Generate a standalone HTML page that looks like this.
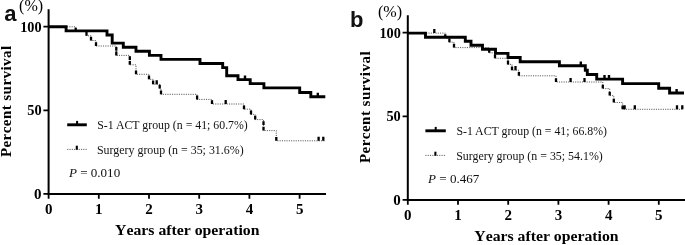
<!DOCTYPE html>
<html><head><meta charset="utf-8"><title>Survival curves</title>
<style>
html,body{margin:0;padding:0;background:#fff;}
svg{display:block;}
.tk{font:bold 14px "Liberation Serif",serif;fill:#000;}
.ttl{font:bold 15.65px "Liberation Serif",serif;fill:#000;font-kerning:none;}
.pc{font:16.2px "Liberation Serif",serif;fill:#000;}
.let{font:bold 22px "Liberation Sans",sans-serif;fill:#111;}
.lg{font:11.9px "Liberation Serif",serif;fill:#111;}
.pv{font:12.8px "Liberation Serif",serif;fill:#111;}
</style></head><body>
<svg width="685" height="245" viewBox="0 0 685 245">
<rect width="685" height="245" fill="#fff"/>
<path d="M48.6,9.3V194.9M47.6,193.9H326" stroke="#000" stroke-width="2" fill="none"/>
<path d="M43.4,26.7H48.6M43.4,110.3H48.6M43.4,193.9H48.6M48.6,193.9V198.7M98.8,193.9V198.7M149.0,193.9V198.7M199.2,193.9V198.7M249.4,193.9V198.7M299.6,193.9V198.7" stroke="#000" stroke-width="1.8" fill="none"/>
<text x="20.2" y="31.5" textLength="21.4" lengthAdjust="spacingAndGlyphs" class="tk">100</text>
<text x="27.2" y="115.1" textLength="14.4" lengthAdjust="spacingAndGlyphs" class="tk">50</text>
<text x="34.1" y="198.7" textLength="7.5" lengthAdjust="spacingAndGlyphs" class="tk">0</text>
<text x="44.9" y="214.2" textLength="7.5" lengthAdjust="spacingAndGlyphs" class="tk">0</text>
<text x="95.1" y="214.2" textLength="7.5" lengthAdjust="spacingAndGlyphs" class="tk">1</text>
<text x="145.2" y="214.2" textLength="7.5" lengthAdjust="spacingAndGlyphs" class="tk">2</text>
<text x="195.5" y="214.2" textLength="7.5" lengthAdjust="spacingAndGlyphs" class="tk">3</text>
<text x="245.7" y="214.2" textLength="7.5" lengthAdjust="spacingAndGlyphs" class="tk">4</text>
<text x="295.9" y="214.2" textLength="7.5" lengthAdjust="spacingAndGlyphs" class="tk">5</text>
<text transform="translate(115.1,235.1) scale(1,0.9)" textLength="144.3" lengthAdjust="spacingAndGlyphs" class="ttl">Years after operation</text>
<text transform="translate(11.0,157.1) rotate(-90) scale(1,0.93)" x="0" textLength="111.2" lengthAdjust="spacing" class="ttl" style="font-size:15px">Percent survival</text>
<text x="19.1" y="11.4" textLength="24.1" lengthAdjust="spacingAndGlyphs" class="pc">(%)</text>
<text x="4.2" y="21.3" class="let">a</text>
<path d="M48.6,26.8H75.7V31.5H86.5V35.8H91V40.5H96V46H116.3V55.4H129.8V64.8H136V74.3H149V79.3H153.1V84.3H159.7V88.6H161V94.3H197.1V99.4H212V104H244V109.2H251V114.4H255.2V119.6H263.5V130.6H276.3V140.8H324.7" stroke="#3a3a3a" stroke-width="0.85" stroke-dasharray="1.1 1.2" fill="none"/>
<path d="M75.7,27.7V31.5M86.5,32.0V35.8M91.0,36.7V40.5M96.0,42.2V46.0M116.3,46.9V50.7M116.3,51.6V55.4M129.8,56.3V60.1M129.8,61.0V64.8M136.0,70.5V74.3M149.0,75.5V79.3M153.1,80.5V84.3M159.7,84.8V88.6M161.0,90.5V94.3M197.1,95.6V99.4M212.0,100.2V104.0M244.0,105.4V109.2M251.0,110.6V114.4M255.2,115.8V119.6M263.5,121.3V125.1M263.5,126.8V130.6M276.3,137.0V140.8M156.7,80.2V84.3M225.7,99.9V104.0M318.6,136.7V140.8M323.3,136.7V140.8" stroke="#000" stroke-width="2.3" fill="none"/>
<path d="M48.6,26.8H66.1V30.9H107V35H112.2V43.1H123.3V47.2H136V51.3H149.4V55.4H161V59.4H200V63.5H222.7V67.6H226.7V75.7H238V79.6H250.2V83.6H263.9V87.9H299.7V92.5H310.8V96.8H325.3" stroke="#000" stroke-width="2.9" fill="none" stroke-linejoin="miter"/>
<path d="M245,75.5V79.6M317.8,92.7V96.8" stroke="#000" stroke-width="2.4" fill="none"/>
<path d="M67.2,124.8H86.8" stroke="#000" stroke-width="2.9"/>
<path d="M77.1,120.9V124.8" stroke="#000" stroke-width="2"/>
<path d="M67.2,149.4H86.8" stroke="#3a3a3a" stroke-width="0.85" stroke-dasharray="1.1 1.2"/>
<path d="M76.8,145.7V149.7" stroke="#000" stroke-width="2.1"/>
<text x="97.2" y="128.7" textLength="150.6" lengthAdjust="spacingAndGlyphs" class="lg">S-1 ACT group (n = 41; 60.7%)</text>
<text x="97.0" y="153.6" textLength="146.6" lengthAdjust="spacingAndGlyphs" class="lg">Surgery group (n = 35; 31.6%)</text>
<text x="68.9" y="177.0" textLength="51.3" lengthAdjust="spacingAndGlyphs" class="pv"><tspan font-style="italic">P</tspan> = 0.010</text>
<path d="M407.8,15.3V200.9M406.8,199.9H685" stroke="#000" stroke-width="2" fill="none"/>
<path d="M402.6,32.7H407.8M402.6,116.3H407.8M402.6,199.9H407.8M407.8,199.9V204.7M458.0,199.9V204.7M508.2,199.9V204.7M558.4,199.9V204.7M608.6,199.9V204.7M658.8,199.9V204.7" stroke="#000" stroke-width="1.8" fill="none"/>
<text x="379.4" y="37.5" textLength="21.4" lengthAdjust="spacingAndGlyphs" class="tk">100</text>
<text x="386.4" y="121.1" textLength="14.4" lengthAdjust="spacingAndGlyphs" class="tk">50</text>
<text x="393.3" y="204.7" textLength="7.5" lengthAdjust="spacingAndGlyphs" class="tk">0</text>
<text x="404.1" y="220.2" textLength="7.5" lengthAdjust="spacingAndGlyphs" class="tk">0</text>
<text x="454.2" y="220.2" textLength="7.5" lengthAdjust="spacingAndGlyphs" class="tk">1</text>
<text x="504.5" y="220.2" textLength="7.5" lengthAdjust="spacingAndGlyphs" class="tk">2</text>
<text x="554.7" y="220.2" textLength="7.5" lengthAdjust="spacingAndGlyphs" class="tk">3</text>
<text x="604.9" y="220.2" textLength="7.5" lengthAdjust="spacingAndGlyphs" class="tk">4</text>
<text x="655.0" y="220.2" textLength="7.5" lengthAdjust="spacingAndGlyphs" class="tk">5</text>
<text transform="translate(474.3,241.1) scale(1,0.9)" textLength="144.3" lengthAdjust="spacingAndGlyphs" class="ttl">Years after operation</text>
<text transform="translate(370.2,163.1) rotate(-90) scale(1,0.93)" x="0" textLength="111.7" lengthAdjust="spacing" class="ttl" style="font-size:15px">Percent survival</text>
<text x="377.9" y="17.4" textLength="24.1" lengthAdjust="spacingAndGlyphs" class="pc">(%)</text>
<text x="350" y="26.8" class="let">b</text>
<path d="M407.8,33.1H445.3V38.0H449.4V42.2H454V47.6H489.2V52.8H495V58.3H508V64.4H512V70.2H518.9V75.8H556V82.0H602.8V88.6H609.7V95.6H613.8V102.5H622.6V109.3H683.5" stroke="#3a3a3a" stroke-width="0.85" stroke-dasharray="1.1 1.2" fill="none"/>
<path d="M445.3,34.2V38.0M449.4,38.4V42.2M454.0,43.8V47.6M489.2,49.0V52.8M495.0,54.5V58.3M508.0,60.6V64.4M512.0,66.4V70.2M518.9,72.0V75.8M556.0,78.2V82.0M602.8,84.8V88.6M609.7,91.8V95.6M613.8,98.7V102.5M622.6,105.5V109.3M434.3,29.0V33.1M515.5,66.1V70.2M570.6,77.9V82.0M584.5,77.9V82.0M624.6,105.2V109.3M634.8,105.2V109.3M677,105.2V109.3M682.3,105.2V109.3" stroke="#000" stroke-width="2.3" fill="none"/>
<path d="M407.8,33.1H425.5V37.2H465.3V41.2H471V45.3H482.5V49.3H495.5V53.4H508V57.5H520.2V61.8H559.4V65.7H585.3V70.2H587.3V74.5H596.7V79.1H622.6V83.6H658.7V88.3H669.6V93.0H684" stroke="#000" stroke-width="2.9" fill="none" stroke-linejoin="miter"/>
<path d="M580.8,61.6V65.7M604.5,75.0V79.1M609,75.0V79.1M676.6,88.9V93.0" stroke="#000" stroke-width="2.4" fill="none"/>
<path d="M425.4,130.8H445.8" stroke="#000" stroke-width="2.9"/>
<path d="M435.7,126.9V130.8" stroke="#000" stroke-width="2"/>
<path d="M425.4,155.4H445.8" stroke="#3a3a3a" stroke-width="0.85" stroke-dasharray="1.1 1.2"/>
<path d="M435.4,151.7V155.7" stroke="#000" stroke-width="2.1"/>
<text x="456.4" y="134.7" textLength="150.6" lengthAdjust="spacingAndGlyphs" class="lg">S-1 ACT group (n = 41; 66.8%)</text>
<text x="456.2" y="159.6" textLength="146.6" lengthAdjust="spacingAndGlyphs" class="lg">Surgery group (n = 35; 54.1%)</text>
<text x="428.1" y="183.0" textLength="51.3" lengthAdjust="spacingAndGlyphs" class="pv"><tspan font-style="italic">P</tspan> = 0.467</text>
</svg>
</body></html>
